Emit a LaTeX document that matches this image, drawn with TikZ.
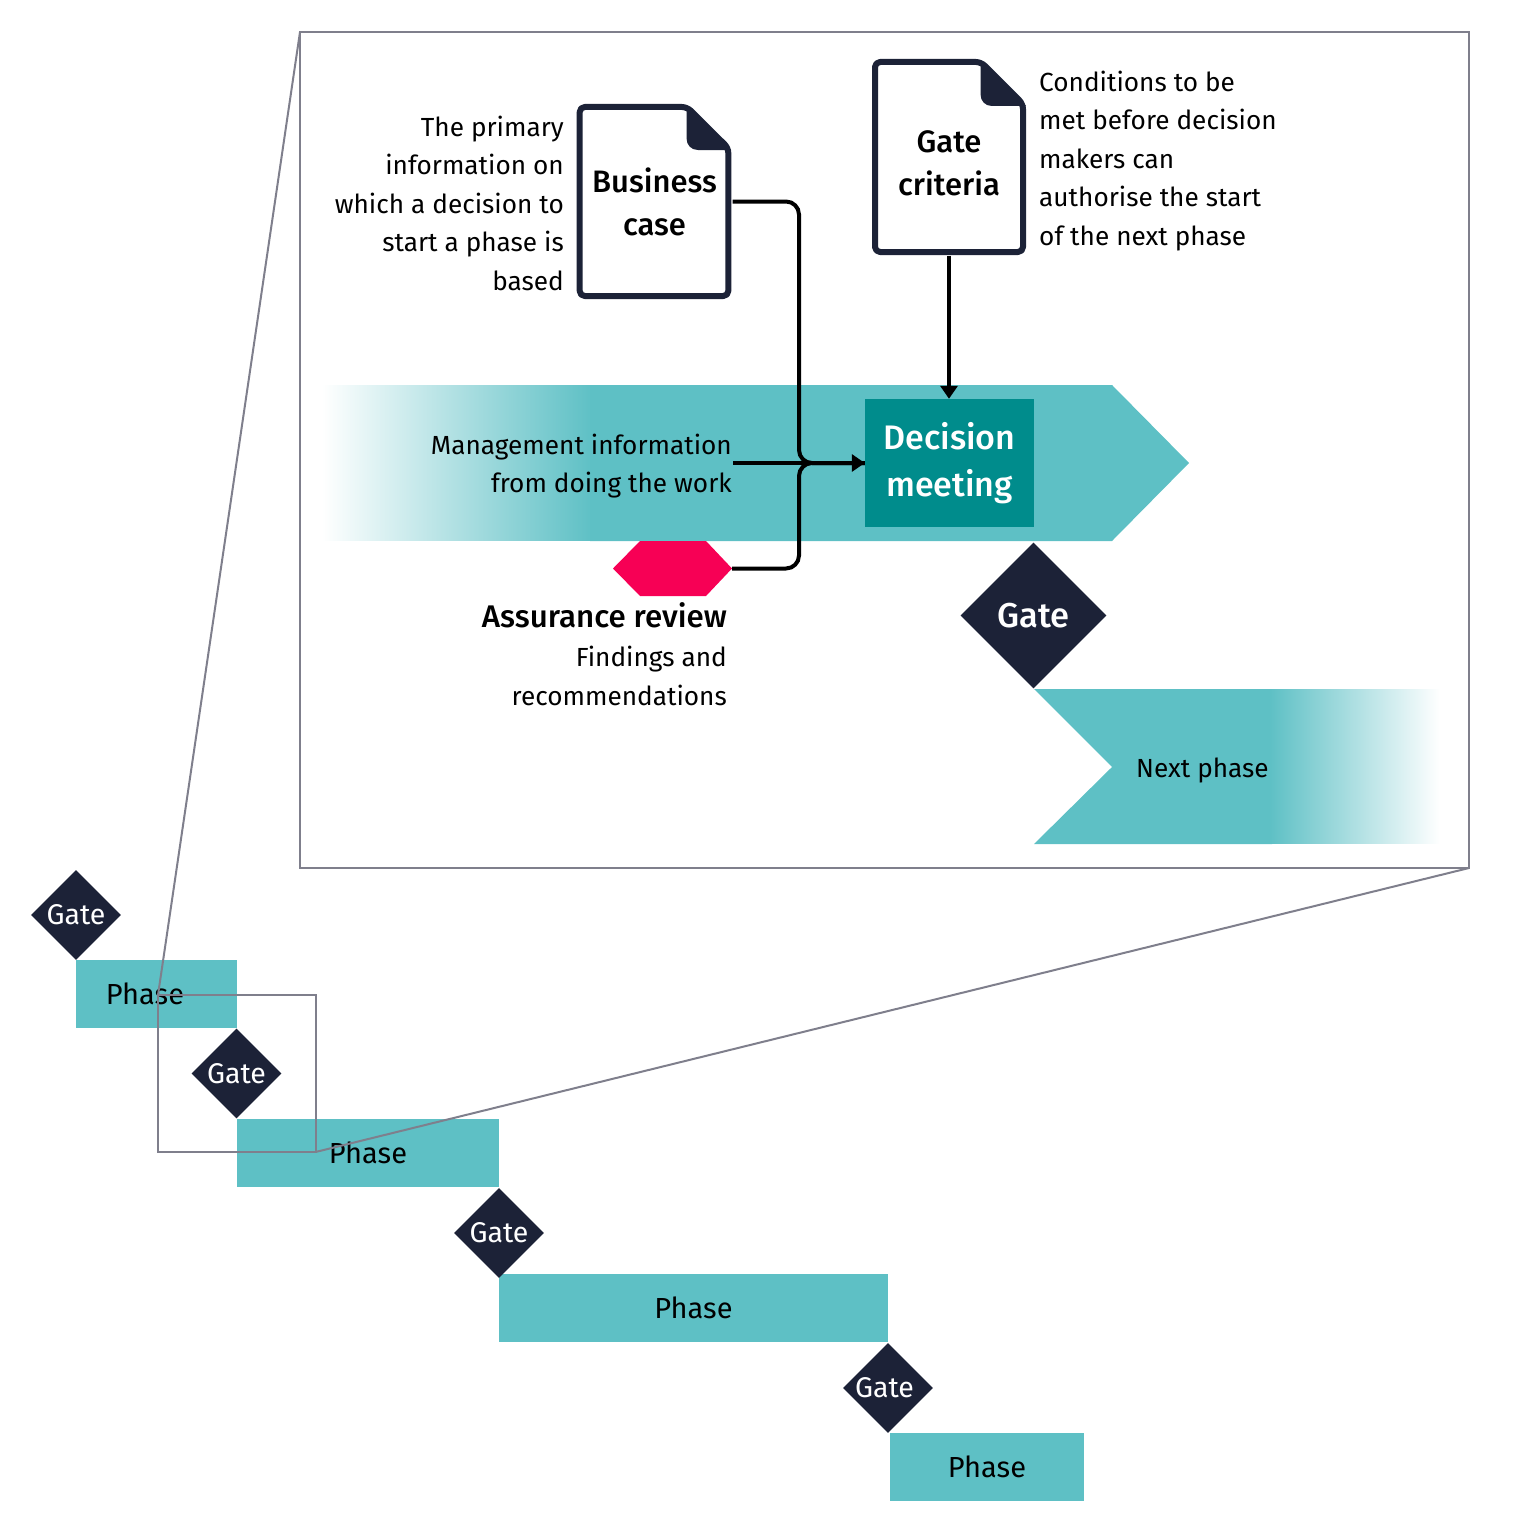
\documentclass[tikz,border=0pt]{standalone}
\usepackage{fontspec}
\setmainfont{Fira Sans}
\newfontfamily\medfont{Fira Sans Medium}
\usetikzlibrary{arrows.meta,shapes.geometric}
\definecolor{tealband}{HTML}{5EC0C5}
\definecolor{tealdark}{HTML}{008C8C}
\definecolor{navy}{HTML}{1C2237}
\definecolor{pinkhex}{HTML}{F70055}
\definecolor{framegray}{HTML}{7F7F8C}
\tikzset{
  body/.style={font=\fontsize{26.2}{38.5}\selectfont,align=right,inner sep=0pt,text=black},
  bodyleft/.style={body,align=left},
  doctext/.style={font=\medfont\fontsize{31}{43}\selectfont,align=center,inner sep=0pt,text=black},
  smallgate/.style={diamond,fill=navy,text=white,inner sep=0pt,minimum width=90pt,minimum height=90pt,font=\fontsize{28.5}{30}\selectfont},
  phasebox/.style={fill=tealband,inner sep=0pt,minimum height=68pt,font=\fontsize{29}{30}\selectfont,text=black},
  conn/.style={draw=black,line width=4pt,rounded corners=13pt},
  tip/.style={-{Triangle[length=13pt,width=17pt]}},
  framing/.style={draw=framegray,line width=2pt},
  docline/.style={draw=navy,line width=6pt,line join=round,rounded corners=5pt,fill=white}
}
\begin{document}
\begin{tikzpicture}[x=1pt,y=-1pt]
\useasboundingbox (0,0) rectangle (1526,1536);
% zoom frame
\draw[framing] (300,32) rectangle (1469,868);
% band
\begin{scope}
\clip (322,385.4) rectangle (592,540.4);
\fill[left color=white,right color=tealband,draw=none] (322,380) rectangle (592,546);
\end{scope}
\fill[tealband] (590,385) -- (1112,385) -- (1189,463) -- (1112,541) -- (590,541) -- cycle;
% next phase band
\fill[tealband] (1034,689) -- (1272,689) -- (1272,844) -- (1034,844) -- (1112,767) -- cycle;
\begin{scope}
\clip (1270,689.4) rectangle (1440,843.4);
\fill[left color=tealband,right color=white,draw=none] (1270,684) rectangle (1440,849);
\end{scope}
% hexagon
\node[inner sep=0pt,minimum width=0pt] (hx) at (732,568.5) {};
\fill[pinkhex] (613,568.5) -- (640,541) -- (706,541) -- (hx.center) -- (706,596) -- (640,596) -- cycle;
% documents
\path[docline] (579.7,107) -- (687,107) -- (728.3,148) -- (728.3,296) -- (579.7,296) -- cycle;
\fill[navy] (686.5,105) -- (731,150) -- (698,150) .. controls (691,150) and (686.5,145) .. (686.5,138) -- cycle;
\path[docline] (875,62) -- (981,62) -- (1023,104) -- (1023,252) -- (875,252) -- cycle;
\fill[navy] (980.5,60) -- (1026,106) -- (992,106) .. controls (985,106) and (980.5,101) .. (980.5,94) -- cycle;
\node[doctext,minimum width=155pt,minimum height=195pt] (bc) at (655,201.5) {};
\node[doctext] at (654.5,202) {Business\\case};
\node[doctext,minimum width=155pt,minimum height=197pt] (gc) at (949,157) {};
\node[doctext] at (949,163) {Gate\\criteria};
% decision
\node[fill=tealdark,text=white,minimum width=169pt,minimum height=128pt,inner sep=0pt,align=center,font=\medfont\fontsize{34}{46.5}\selectfont] (dm) at (949.5,463) {Decision\\meeting};
% connectors
\node[inner sep=0pt,minimum size=0pt] (mi) at (733,463) {};
\coordinate (j) at (799,463);
\draw[conn] (bc.east) -- (bc.east -| j) -- (j) -- (mi.center -| dm.west);
\draw[conn] (hx.center) -- (hx.center -| j) -- (j) -- (mi.center -| dm.west);
\draw[conn,rounded corners=0pt,tip] (mi.center) -- (dm.west);
\draw[conn,rounded corners=0pt,tip] (gc.south) -- (gc.south |- dm.north);
% texts
\node[body,anchor=east] at (564,203) {The primary\\information on\\which a decision to\\start a phase is\\based};
\node[bodyleft,anchor=west] at (1039,161) {Conditions to be\\met before decision\\makers can\\authorise the start\\of the next phase};
\node[body,anchor=east] at (732,466) {Management information\\from doing the work};
\node[font=\medfont\fontsize{31.3}{31}\selectfont,inner sep=0pt,anchor=east] at (727,615) {Assurance review};
\node[body,anchor=east] at (727,676) {Findings and\\recommendations};
\node[body,anchor=west] at (1136,770) {Next phase};
% big gate
\node[diamond,fill=navy,text=white,inner sep=0pt,minimum width=146pt,minimum height=146pt,font=\medfont\fontsize{34.5}{36}\selectfont] (bg) at (1033.5,615.5) {Gate};
% small chain
\node[phasebox,minimum width=161pt] (p1) at (156.5,994) {};
\node[phasebox] at (145,994) {Phase};
\node[phasebox,minimum width=262pt] (p2) at (368,1153) {Phase};
\node[phasebox,minimum width=389pt] (p3) at (693.5,1308) {Phase};
\node[phasebox,minimum width=194pt] (p4) at (987,1467) {Phase};
\node[smallgate] (g1) at (76,915) {Gate};
\node[smallgate] (g2) at (236.5,1073.5) {Gate};
\node[smallgate] (g3) at (499,1233) {Gate};
\node[smallgate] (g4) at (888,1388) {};
\node[text=white,inner sep=0pt,font=\fontsize{28.5}{30}\selectfont] at (884.5,1388) {Gate};
% zoom lines
\draw[framing] (158,995) rectangle (315.5,1152);
\draw[framing] (300,32) -- (158,995);
\draw[framing] (1469,868) -- (315.5,1152);
\end{tikzpicture}
\end{document}
